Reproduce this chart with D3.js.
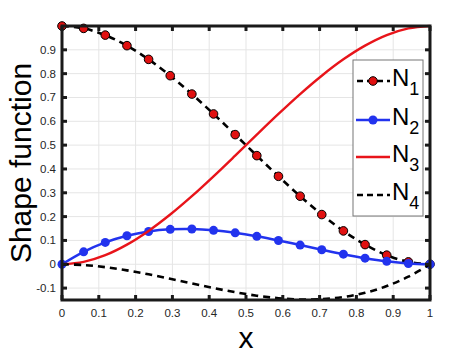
<!DOCTYPE html>
<html><head><meta charset="utf-8">
<script src="https://cdn.jsdelivr.net/npm/d3@7"></script>
<style>body{margin:0;background:#fff}svg{display:block}</style>
</head><body>
<script>
const xs = [0,0.0588,0.1176,0.1765,0.2353,0.2941,0.3529,0.4118,0.4706,0.5294,0.5882,0.6471,0.7059,0.7647,0.8235,0.8824,0.9412,1];
const n1 = [1,0.990,0.9618,0.9175,0.8600,0.7914,0.7143,0.6309,0.5441,0.4559,0.3691,0.2857,0.2086,0.1400,0.0825,0.0382,0.0100,0];
const n2 = [0,0.0521,0.0916,0.1197,0.1376,0.1466,0.1478,0.1425,0.1319,0.1172,0.0998,0.0806,0.0611,0.0423,0.0256,0.0122,0.0033,0];
const n3 = [0,0.0100,0.0382,0.0825,0.1400,0.2086,0.2857,0.3691,0.4559,0.5441,0.6309,0.7143,0.7914,0.8600,0.9175,0.9618,0.990,1];
const n4 = [0,-0.0033,-0.0122,-0.0256,-0.0423,-0.0611,-0.0806,-0.0998,-0.1172,-0.1319,-0.1425,-0.1478,-0.1466,-0.1376,-0.1197,-0.0916,-0.0521,0];
const xTicks = [0,0.1,0.2,0.3,0.4,0.5,0.6,0.7,0.8,0.9,1];
const yTicks = [-0.1,0,0.1,0.2,0.3,0.4,0.5,0.6,0.7,0.8,0.9];
const legendLabels = ["1","2","3","4"];

const W=474,H=355;
const L=62,R=430,T=26,B=300;
const svg=d3.select("body").append("svg").attr("width",W).attr("height",H);
const x=d3.scaleLinear().domain([0,1]).range([L,R]);
const y=d3.scaleLinear().domain([-0.15,1]).range([B,T]);
const font="Liberation Sans, Arial, Helvetica, sans-serif";

// grid
const g=svg.append("g");
g.selectAll(".gx").data(xTicks).join("line").attr("x1",d=>x(d)).attr("x2",d=>x(d)).attr("y1",T).attr("y2",B).attr("stroke","#e5e5e5").attr("stroke-width",1);
g.selectAll(".gy").data(yTicks.concat([1])).join("line").attr("x1",L).attr("x2",R).attr("y1",d=>y(d)).attr("y2",d=>y(d)).attr("stroke","#e5e5e5").attr("stroke-width",1);

const line=d3.line().x((d,i)=>x(xs[i])).y(d=>y(d)).curve(d3.curveCatmullRom);
const plot=svg.append("g");
// N1
plot.append("path").attr("d",line(n1)).attr("fill","none").attr("stroke","#000").attr("stroke-width",2.6).attr("stroke-dasharray","7,5");
plot.selectAll(".m1").data(n1).join("circle").attr("cx",(d,i)=>x(xs[i])).attr("cy",d=>y(d)).attr("r",4.3).attr("fill","#e01010").attr("stroke","#000").attr("stroke-width",1);
// N2
plot.append("path").attr("d",line(n2)).attr("fill","none").attr("stroke","#2233ee").attr("stroke-width",2.5);
plot.selectAll(".m2").data(n2).join("circle").attr("cx",(d,i)=>x(xs[i])).attr("cy",d=>y(d)).attr("r",4.5).attr("fill","#2233ee");
// N3
plot.append("path").attr("d",line(n3)).attr("fill","none").attr("stroke","#e8141a").attr("stroke-width",2.4);
// N4
plot.append("path").attr("d",line(n4)).attr("fill","none").attr("stroke","#000").attr("stroke-width",2.6).attr("stroke-dasharray","7,5");

// axes frame
const ax=svg.append("g");
ax.append("rect").attr("x",L).attr("y",T).attr("width",R-L).attr("height",B-T).attr("fill","none").attr("stroke","#1a1a1a").attr("stroke-width",3);
const tl=5;
ax.selectAll(".tb").data(xTicks).join("line").attr("x1",d=>x(d)).attr("x2",d=>x(d)).attr("y1",B).attr("y2",B-tl).attr("stroke","#1a1a1a").attr("stroke-width",3);
ax.selectAll(".tt").data(xTicks).join("line").attr("x1",d=>x(d)).attr("x2",d=>x(d)).attr("y1",T).attr("y2",T+tl).attr("stroke","#1a1a1a").attr("stroke-width",3);
ax.selectAll(".tlf").data(yTicks).join("line").attr("x1",L).attr("x2",L+tl).attr("y1",d=>y(d)).attr("y2",d=>y(d)).attr("stroke","#1a1a1a").attr("stroke-width",3);
ax.selectAll(".tr").data(yTicks).join("line").attr("x1",R).attr("x2",R-tl).attr("y1",d=>y(d)).attr("y2",d=>y(d)).attr("stroke","#1a1a1a").attr("stroke-width",3);

// tick labels
const fmt=d=>d===0?"0":d===1?"1":d3.format(".1f")(d).replace("−","-");
ax.selectAll(".xl").data(xTicks).join("text").attr("x",d=>x(d)).attr("y",B+17).attr("text-anchor","middle").attr("font-family",font).attr("font-size",11.5).attr("fill","#262626").text(fmt);
ax.selectAll(".yl").data(yTicks).join("text").attr("x",L-6).attr("y",d=>y(d)+4).attr("text-anchor","end").attr("font-family",font).attr("font-size",11.5).attr("fill","#262626").text(fmt);

// axis titles
svg.append("text").attr("x",x(0.5)).attr("y",348).attr("text-anchor","middle").attr("font-family",font).attr("font-size",30).attr("fill","#000").text("x");
svg.append("text").attr("transform",`translate(31,${(T+B)/2}) rotate(-90)`).attr("text-anchor","middle").attr("font-family",font).attr("font-size",30).attr("fill","#000").text("Shape function");

// legend
const lg=svg.append("g");
lg.append("rect").attr("x",353).attr("y",60).attr("width",70).attr("height",156).attr("fill","#fff").attr("stroke","#777").attr("stroke-width",1);
const ly=[81,120,157,195];
const styles=[
  {stroke:"#000",dash:"7,5",w:2.6,marker:"red"},
  {stroke:"#2233ee",dash:null,w:2.5,marker:"blue"},
  {stroke:"#e8141a",dash:null,w:2.4,marker:null},
  {stroke:"#000",dash:"7,5",w:2.6,marker:null}];
legendLabels.forEach((s,i)=>{
  const st=styles[i];
  const ln=lg.append("line").attr("x1",356).attr("x2",390).attr("y1",ly[i]).attr("y2",ly[i]).attr("stroke",st.stroke).attr("stroke-width",st.w);
  if(st.dash) ln.attr("stroke-dasharray","6,4").attr("x1",357);
  if(st.marker==="red") lg.append("circle").attr("cx",373).attr("cy",ly[i]).attr("r",4.3).attr("fill","#e01010").attr("stroke","#000");
  if(st.marker==="blue") lg.append("circle").attr("cx",373).attr("cy",ly[i]).attr("r",4.5).attr("fill","#2233ee");
  const t=lg.append("text").attr("x",392).attr("y",ly[i]+5).attr("font-family",font).attr("font-size",24).attr("fill","#000");
  t.append("tspan").text("N");
  t.append("tspan").attr("dy",9).attr("font-size",18).text(s);
});
</script>
</body></html>
